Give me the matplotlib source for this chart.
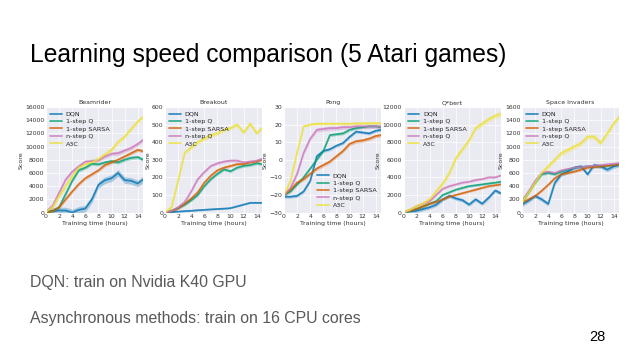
import matplotlib
matplotlib.use("Agg")
import matplotlib.pyplot as plt
import numpy as np
import seaborn as sns

# shared time axis (hours)
HOURS = [0, 1, 2, 3, 4, 5, 6, 7, 8, 9, 10, 11, 12, 13, 14, 14.8]
METHODS = ["DQN", "1-step Q", "1-step SARSA", "n-step Q", "A3C"]
XTICKS = [0, 2, 4, 6, 8, 10, 12, 14]

# rows: DQN, 1-step Q, 1-step SARSA, n-step Q, A3C
BEAMRIDER = [
    [100, 250, 300, 300, 0, 400, 600, 2000, 4200, 4900, 5200, 6000, 4900, 4800, 4400, 5000],
    [0, 200, 800, 2800, 4800, 6400, 6800, 7400, 7300, 7600, 7800, 7600, 8000, 8300, 8400, 8000],
    [0, 200, 800, 2000, 3200, 4300, 5200, 5800, 6400, 7200, 7600, 8000, 8500, 9000, 9500, 9300],
    [100, 1000, 3000, 5000, 6200, 7000, 7700, 7800, 7900, 8500, 8900, 9000, 9400, 9800, 10400, 11000],
    [100, 800, 2500, 4000, 5500, 6800, 7300, 7600, 8100, 8800, 9500, 10700, 11500, 12700, 13800, 14500],
]
BEAMRIDER_SPREAD = [500, 250, 250, 300, 350]

BREAKOUT = [
    [0, 2, 5, 8, 10, 13, 15, 18, 20, 22, 25, 35, 45, 55, 55, 55],
    [0, 10, 25, 45, 70, 100, 150, 190, 220, 245, 235, 255, 265, 270, 280, 275],
    [0, 8, 25, 50, 80, 115, 170, 210, 240, 255, 265, 275, 275, 285, 290, 300],
    [0, 10, 30, 60, 120, 190, 230, 265, 280, 290, 295, 295, 285, 290, 295, 305],
    [0, 30, 180, 340, 370, 400, 420, 440, 450, 470, 480, 500, 455, 505, 450, 480],
]
BREAKOUT_SPREAD = [4, 8, 8, 8, 12]

PONG = [
    [-21, -21, -20.5, -18, -12, 2, 5, 6, 8, 9.5, 13, 16, 15.5, 15, 16.5, 17],
    [-20, -18, -14, -10, -5, 0, 5, 14, 14.5, 15, 17, 18, 18.5, 19, 19, 18.5],
    [-20, -17, -13, -11, -8, -5, -3, -1, 2, 5, 9, 10.5, 11, 12, 13.5, 14],
    [-20, -16, -8, 4, 12, 17, 17.5, 18, 18, 18.5, 18.5, 19, 19, 19, 19, 19],
    [-20, -12, 4, 19, 20, 20.5, 20.5, 20.5, 20.5, 20.5, 20.5, 20.7, 20.7, 20.8, 20.8, 20.8],
]
PONG_SPREAD = [0.8, 0.8, 1.0, 1.2, 0.8]

QBERT = [
    [0, 100, 200, 400, 600, 900, 1500, 1900, 1600, 1400, 900, 1500, 1000, 1700, 2500, 2200],
    [0, 200, 400, 700, 1000, 1300, 2000, 2300, 2600, 2800, 3000, 3100, 3200, 3300, 3400, 3500],
    [0, 200, 400, 700, 1000, 1200, 1500, 1800, 2000, 2200, 2400, 2600, 2800, 3000, 3100, 3200],
    [0, 300, 700, 1000, 1300, 2000, 2700, 3000, 3200, 3400, 3500, 3700, 3800, 4000, 4000, 4200],
    [0, 300, 700, 1000, 1500, 2400, 3300, 4500, 6200, 7200, 8200, 9600, 10100, 10600, 11000, 11200],
]
QBERT_SPREAD = [200, 120, 120, 120, 300]

SPACE_INVADERS = [
    [120, 180, 250, 200, 130, 450, 580, 620, 680, 700, 580, 720, 700, 650, 700, 720],
    [150, 300, 450, 580, 600, 580, 620, 650, 680, 690, 700, 700, 700, 710, 720, 730],
    [150, 200, 250, 330, 420, 520, 580, 600, 620, 650, 680, 690, 700, 710, 720, 730],
    [180, 320, 480, 600, 620, 600, 640, 660, 680, 690, 700, 710, 720, 730, 740, 750],
    [150, 300, 450, 600, 700, 800, 900, 950, 1000, 1050, 1150, 1150, 1050, 1200, 1350, 1450],
]
SPACE_INVADERS_SPREAD = [30, 20, 20, 20, 40]

GAMES = ["Beamrider", "Breakout", "Pong", "Q*bert", "Space Invaders"]
GAME_DATA = [BEAMRIDER, BREAKOUT, PONG, QBERT, SPACE_INVADERS]
GAME_SPREAD = [BEAMRIDER_SPREAD, BREAKOUT_SPREAD, PONG_SPREAD, QBERT_SPREAD, SPACE_INVADERS_SPREAD]
YTICKS = [
    list(range(0, 16001, 2000)),
    list(range(0, 601, 100)),
    list(range(-30, 31, 10)),
    list(range(0, 12001, 2000)),
    list(range(0, 1601, 200)),
]
LEGEND_LOC = ["upper left", "upper left", "lower right", "upper left", "upper left"]


def main():
    sns.set_style("darkgrid")
    plt.rcParams["font.family"] = ["DejaVu Sans"]
    pal = sns.color_palette("colorblind")
    colors = [pal[0], pal[2], pal[3], pal[4], pal[8]]

    W, H = 638, 359
    fig = plt.figure(figsize=(W / 100, H / 100), dpi=100, facecolor="white")

    lefts = [46, 165, 284, 403.5, 522]
    ax_w, top, bottom = 97, 107, 212.5
    x = np.array(HOURS)

    for i, game in enumerate(GAMES):
        ax = fig.add_axes([lefts[i] / W, 1 - bottom / H, ax_w / W, (bottom - top) / H])
        for j, m in enumerate(METHODS):
            y = np.array(GAME_DATA[i][j], dtype=float)
            s = GAME_SPREAD[i][j]
            ax.fill_between(x, y - s, y + s, color=colors[j], alpha=0.3, lw=0)
            ax.plot(x, y, color=colors[j], lw=1.25, alpha=0.8, label=m)
        ax.set_xlim(0, 14.8)
        ax.set_ylim(YTICKS[i][0], YTICKS[i][-1])
        ax.set_xticks(XTICKS)
        ax.set_yticks(YTICKS[i])
        ax.tick_params(labelsize=4.4, pad=1.2, length=0, colors="#333333")
        ax.grid(color="white", lw=0.5)
        ax.set_title(game, fontsize=4.5, pad=2, color="#333333")
        ax.set_xlabel("Training time (hours)", fontsize=4.5, labelpad=1.5, color="#333333")
        ax.set_ylabel("Score", fontsize=4.5, labelpad=1, color="#333333")
        ax.legend(loc=LEGEND_LOC[i], fontsize=4.6, frameon=False, handlelength=1.8,
                  labelspacing=0.3, borderaxespad=0.3, handletextpad=0.6)

    fig.text(30 / W, 1 - 55 / H, "Learning speed comparison (5 Atari games)",
             fontsize=17.7, family="Liberation Sans", va="center", ha="left", color="black")
    fig.text(30 / W, 1 - 282 / H, "DQN: train on Nvidia K40 GPU",
             fontsize=11.4, family="Liberation Sans", va="center", ha="left", color="#595959")
    fig.text(30 / W, 1 - 318 / H, "Asynchronous methods: train on 16 CPU cores",
             fontsize=11.4, family="Liberation Sans", va="center", ha="left", color="#595959")
    fig.text(606 / W, 1 - 337 / H, "28",
             fontsize=10.5, family="Liberation Sans", va="center", ha="right", color="black")

    fig.savefig("out.png", dpi=100, facecolor="white")
    plt.close(fig)


if __name__ == "__main__":
    main()
